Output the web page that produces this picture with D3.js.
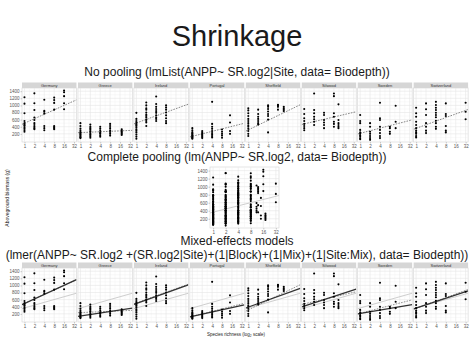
<!DOCTYPE html>
<html><head><meta charset="utf-8">
<script src="https://cdn.jsdelivr.net/npm/d3@7"></script>
<style>body{margin:0;background:#fff;} svg{display:block;font-family:"Liberation Sans",Arial,sans-serif;}</style>
</head><body><svg id="c" width="474" height="355"></svg>
<script>
const sites = ["Germany","Greece","Ireland","Portugal","Sheffield","Silwood","Sweden","Switzerland"];
const yTicks = [200,400,600,800,1000,1200,1400];
const xTicks = [1,2,4,8,16,32];

const germany = [[1,[1230,1050,780,560,500,470,440,420,380,340,300,260]],[2,[1340,1060,870,660,590,500,450,400,360,330]],[4,[1160,850,820,770,420,360,300]],[8,[1220,1150,1070,880,420,390,360,330]],[16,[1420,1370,1260,1060,890]]];
const greece = [[1,[500,420,350,300,260,230,200,180,150,120,100,80]],[2,[460,400,360,320,280,250,200,170,130,90]],[4,[400,350,300,250,220,200,160,120]],[8,[480,420,360,300,250,200,150]],[18,[330,290,260,230,200,170]]];
const ireland = [[1,[790,620,560,520,480,450,420,380,330,290,240,180,120,60]],[2,[1080,1000,920,880,800,740,700,660,600,560,520,420]],[4,[1250,1040,960,900,840,790,720,660,620,560]],[8,[1000,940,880,800,720,640,560,500]]];
const portugal = [[1,[360,300,250,220,200,170,150,120,100,80,60]],[2,[280,240,200,170,140,110,80]],[4,[1100,480,400,340,280,220,180,140,100]],[8,[320,260,200,150,90]],[14,[720,520,280,200]]];
const sheffield = [[1,[920,860,780,700,620,560,500,440,400,340,280,200,140]],[2,[880,760,680,620,560,500,460]],[4,[1000,960,900,830,760,700,600,240]],[8,[1020,1000,960,880]],[12,[960,920,880,840]]];
const silwood = [[1,[900,760,640,560,480,420,360,300]],[2,[1335,870,780,680,610,540,450]],[4,[795,730,590,520,450,360]],[8,[1335,1260,780,680,540,480,400]],[11,[1030,590,500,450,400,360]]];
const sweden = [[1,[730,560,500,310,240,200,160,130,80,50]],[2,[500,400,260,200,140,80,30]],[4,[1075,640,590,400,310,220,140,80]],[8,[400,360,260,200]],[12,[990,540,360]]];
const switzerland = [[1,[935,780,680,540,450,360,290,240,200,140,100]],[2,[1056,890,730,500,400,290,220]],[4,[1100,1010,935,870,795,730,665,570,500,400,340]],[8,[1056,760,700,420,290,240]],[32,[1075,820,610]]];
const siteData = [germany, greece, ireland, portugal, sheffield, silwood, sweden, switzerland];

// fitted lines: ANPP = a + b*log2(SR)
const noPoolA = [500, 235, 505, 130, 310, 480, 215, 355];
const noPoolB = [125, 12, 101, 70, 135, 65, 72, 101];
const mixedA  = [490, 140, 490, 130, 389, 420, 212, 360];
const mixedB  = [128, 42, 100, 61, 100, 90, 47, 93];
const poolA = 365, poolB = 79;

const svg = d3.select("#c");
const FONT = '"Liberation Sans",Arial,sans-serif';

function txt(x, y, s, size, opts={}) {
  return svg.append("text").attr("x", x).attr("y", y).attr("text-anchor", opts.anchor || "middle")
    .attr("font-size", size).attr("fill", opts.fill || "#1a1a1a").text(s);
}

txt(237, 46, "Shrinkage", 29);
txt(237, 76, "No pooling (lmList(ANPP~ SR.log2|Site, data= Biodepth))", 12);
txt(237, 161, "Complete pooling (lm(ANPP~ SR.log2, data= Biodepth))", 12);
txt(237, 245, "Mixed-effects models", 12);
txt(237, 259, "(lmer(ANPP~ SR.log2 +(SR.log2|Site)+(1|Block)+(1|Mix)+(1|Site:Mix), data= Biodepth))", 12);

const L0 = -0.25, L1 = 5.25;
let clipId = 0;

function panel(x0, y0, w, h, pts, lines, strip) {
  const x = d3.scaleLog().base(2).domain([Math.pow(2, L0), Math.pow(2, L1)]).range([x0, x0 + w]);
  const y = d3.scaleLinear().domain([-30, 1490]).range([y0 + h, y0]);
  const g = svg.append("g");
  g.append("rect").attr("x", x0).attr("y", y0).attr("width", w).attr("height", h)
    .attr("fill", "#ffffff").attr("stroke", "#d4d4d4").attr("stroke-width", 0.6);
  g.selectAll(".ym").data([100,300,500,700,900,1100,1300]).join("line")
    .attr("x1", x0).attr("x2", x0 + w).attr("y1", d => y(d)).attr("y2", d => y(d))
    .attr("stroke", "#f2f2f2").attr("stroke-width", 0.5);
  g.selectAll(".xm").data(xTicks.slice(0,5).map(d => d * Math.SQRT2)).join("line")
    .attr("x1", d => x(d)).attr("x2", d => x(d)).attr("y1", y0).attr("y2", y0 + h)
    .attr("stroke", "#f2f2f2").attr("stroke-width", 0.5);
  g.selectAll(".yg").data(yTicks).join("line")
    .attr("x1", x0).attr("x2", x0 + w).attr("y1", d => y(d)).attr("y2", d => y(d))
    .attr("stroke", "#e6e6e6").attr("stroke-width", 0.6);
  g.selectAll(".xg").data(xTicks).join("line")
    .attr("x1", d => x(d)).attr("x2", d => x(d)).attr("y1", y0).attr("y2", y0 + h)
    .attr("stroke", "#e6e6e6").attr("stroke-width", 0.6);
  if (strip) {
    g.append("rect").attr("x", x0).attr("y", y0 - 5.5).attr("width", w).attr("height", 5.5).attr("fill", "#d6d6d6");
    g.append("text").attr("x", x0 + w / 2).attr("y", y0 - 1.4).attr("text-anchor", "middle")
      .attr("font-size", 4).attr("fill", "#333").text(strip);
  }
  const xa = g.append("g").attr("transform", `translate(0,${y0 + h})`)
    .call(d3.axisBottom(x).tickValues(xTicks).tickFormat(d3.format("d")).tickSize(1.5).tickPadding(1.5));
  xa.select(".domain").remove();
  xa.selectAll("line").attr("stroke", "#999").attr("stroke-width", 0.5);
  xa.selectAll("text").attr("font-size", 4.5).attr("fill", "#555").attr("font-family", FONT);
  const id = "cp" + (clipId++);
  svg.append("clipPath").attr("id", id).append("rect").attr("x", x0).attr("y", y0).attr("width", w).attr("height", h);
  const cg = g.append("g").attr("clip-path", `url(#${id})`);
  lines.forEach(ln => {
    cg.append("line")
      .attr("x1", x(Math.pow(2, L0))).attr("y1", y(ln.a + ln.b * L0))
      .attr("x2", x(Math.pow(2, L1))).attr("y2", y(ln.a + ln.b * L1))
      .attr("stroke", ln.color).attr("stroke-width", ln.width)
      .attr("stroke-dasharray", ln.dash || null);
  });
  const flat = [];
  pts.forEach(([sr, vals]) => vals.forEach(v => flat.push([sr, v])));
  cg.selectAll("circle.p").data(flat).join("circle")
    .attr("cx", d => x(d[0])).attr("cy", d => y(d[1])).attr("r", 1.05).attr("fill", "#000");
  return {x, y};
}

function yAxis(xPos, y0, h) {
  const y = d3.scaleLinear().domain([-30, 1490]).range([y0 + h, y0]);
  const ya = svg.append("g").attr("transform", `translate(${xPos},0)`)
    .call(d3.axisLeft(y).tickValues(yTicks).tickFormat(d3.format("d")).tickSize(1.5).tickPadding(1));
  ya.select(".domain").remove();
  ya.selectAll("line").attr("stroke", "#999").attr("stroke-width", 0.5);
  ya.selectAll("text").attr("font-size", 4.5).attr("fill", "#555").attr("font-family", FONT);
}

const PX0 = 22, PW = 54.45, GAP = 1.5, PH = 54;
const TOP = 88, BOT = 268;

sites.forEach((s, i) => {
  const x0 = PX0 + i * (PW + GAP);
  panel(x0, TOP, PW, PH, siteData[i],
    [{a: noPoolA[i], b: noPoolB[i], color: "#555", width: 0.7, dash: "1.6,1.2"}], s);
  panel(x0, BOT, PW, PH, siteData[i],
    [{a: poolA, b: poolB, color: "#c8c8c8", width: 0.9},
     {a: noPoolA[i], b: noPoolB[i], color: "#666", width: 0.7, dash: "1.6,1.2"},
     {a: mixedA[i], b: mixedB[i], color: "#333", width: 1.3}], s);
});
yAxis(PX0, TOP, PH);
yAxis(PX0, BOT, PH);

const allPts = [].concat(...siteData);
panel(210, 167, 69, 61, allPts, [{a: poolA, b: poolB, color: "#c8c8c8", width: 0.9}], null);
yAxis(210, 167, 61);

svg.append("text").attr("transform", "translate(8.5,198) rotate(-90)").attr("text-anchor", "middle")
  .attr("font-size", 5).attr("fill", "#222").text("Aboveground biomass (g)");
const xt = svg.append("text").attr("x", 236).attr("y", 336).attr("text-anchor", "middle")
  .attr("font-size", 4.5).attr("fill", "#222");
xt.append("tspan").text("Species richness (log");
xt.append("tspan").attr("font-size", 3.2).attr("dy", 1).text("2");
xt.append("tspan").attr("dy", -1).text(" scale)");
</script></body></html>
